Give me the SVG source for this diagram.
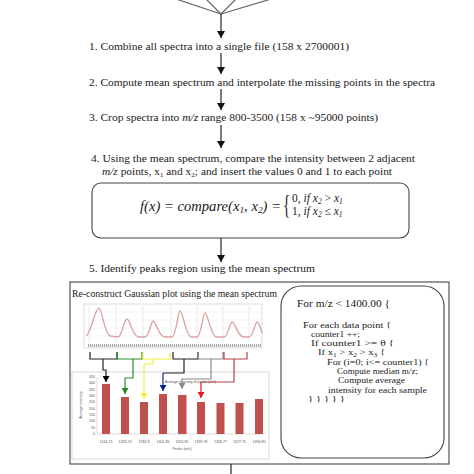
<svg xmlns="http://www.w3.org/2000/svg" width="474" height="474" viewBox="0 0 474 474">
<style>
  .t { font-family: "Liberation Serif", "Times New Roman", serif; font-size: 11px; fill: #1a1a1a; }
  .c { font-family: "Liberation Serif", "Times New Roman", serif; font-size: 10px; fill: #1a1a1a; }
  .a { font-family: "Liberation Serif", "Times New Roman", serif; font-size: 8px; fill: #1a1a1a; }
  .m { font-family: "Liberation Serif", "Times New Roman", serif; font-style: italic; fill: #1a1a1a; }
  .tiny { font-family: "Liberation Sans", Arial, sans-serif; font-size: 3.6px; fill: #555; }
  .flow { stroke: #222; stroke-width: 1.2; fill: none; }
  .box { stroke: #444; stroke-width: 1.1; fill: #fff; }
  .grid { stroke: #dcdcdc; stroke-width: 0.6; fill: none; }
  .br { stroke-width: 1.2; fill: none; }
  .bar { fill: #c0504d; }
</style>
<defs>
  <marker id="ah" markerUnits="userSpaceOnUse" markerWidth="8" markerHeight="8" refX="7" refY="4" orient="auto">
    <path d="M0,0 L7,4 L0,8 z" fill="#111"/>
  </marker>
  <marker id="ak" markerUnits="userSpaceOnUse" markerWidth="7" markerHeight="7" refX="6" refY="3.5" orient="auto"><path d="M0,0 L6,3.5 L0,7 z" fill="#000"/></marker>
  <marker id="ag" markerUnits="userSpaceOnUse" markerWidth="7" markerHeight="7" refX="6" refY="3.5" orient="auto"><path d="M0,0 L6,3.5 L0,7 z" fill="#1f8a1f"/></marker>
  <marker id="ay" markerUnits="userSpaceOnUse" markerWidth="7" markerHeight="7" refX="6" refY="3.5" orient="auto"><path d="M0,0 L6,3.5 L0,7 z" fill="#f2f230"/></marker>
  <marker id="an" markerUnits="userSpaceOnUse" markerWidth="7" markerHeight="7" refX="6" refY="3.5" orient="auto"><path d="M0,0 L6,3.5 L0,7 z" fill="#0a1f8f"/></marker>
  <marker id="aa" markerUnits="userSpaceOnUse" markerWidth="7" markerHeight="7" refX="6" refY="3.5" orient="auto"><path d="M0,0 L6,3.5 L0,7 z" fill="#8a8a8a"/></marker>
  <marker id="ar" markerUnits="userSpaceOnUse" markerWidth="7" markerHeight="7" refX="6" refY="3.5" orient="auto"><path d="M0,0 L6,3.5 L0,7 z" fill="#e01818"/></marker>
</defs>
<rect width="474" height="474" fill="#fff"/>

<!-- connectors -->
<g id="connectors">
  <g stroke="#666" stroke-width="1.2" fill="none">
    <line x1="167" y1="-4" x2="221" y2="14"/>
    <line x1="203" y1="-4" x2="221" y2="14"/>
    <line x1="239" y1="-4" x2="221" y2="14"/>
    <line x1="281" y1="-4" x2="221" y2="14"/>
  </g>
  <line class="flow" x1="221" y1="14" x2="221" y2="38" marker-end="url(#ah)"/>
  <line class="flow" x1="221" y1="53" x2="221" y2="74" marker-end="url(#ah)"/>
  <line class="flow" x1="221" y1="89" x2="221" y2="110" marker-end="url(#ah)"/>
  <line class="flow" x1="221" y1="125" x2="221" y2="148" marker-end="url(#ah)"/>
  <line class="flow" x1="221" y1="238" x2="221" y2="262" marker-end="url(#ah)"/>
  <line class="flow" x1="231" y1="464" x2="231" y2="476"/>
</g>

<!-- step texts -->
<g id="step1"><text class="t" x="89" y="50" textLength="260" lengthAdjust="spacingAndGlyphs">1. Combine all spectra into a single  file (158 x 2700001)</text></g>
<g id="step2"><text class="t" x="89" y="86" textLength="346" lengthAdjust="spacingAndGlyphs">2. Compute mean spectrum and interpolate the missing points in the spectra</text></g>
<g id="step3"><text class="t" x="89" y="121" textLength="289" lengthAdjust="spacingAndGlyphs">3. Crop spectra into <tspan font-style="italic">m/z</tspan> range 800-3500 (158 x ~95000 points)</text></g>
<g id="step4">
  <text class="t" x="91" y="162" textLength="324" lengthAdjust="spacingAndGlyphs">4. Using  the mean spectrum, compare the intensity between 2 adjacent</text>
  <text class="t" x="102" y="175" textLength="290" lengthAdjust="spacingAndGlyphs"><tspan font-style="italic">m/z</tspan> points, x<tspan font-size="7" dy="2">1</tspan><tspan dy="-2"> and x</tspan><tspan font-size="7" dy="2">2</tspan><tspan dy="-2">; and insert the values 0 and 1 to each point</tspan></text>
</g>

<!-- formula box -->
<g id="formula">
  <rect class="box" x="92" y="183" width="317" height="55" rx="9" stroke-width="1.3"/>
  <text class="m" x="140" y="211" font-size="14" textLength="141" lengthAdjust="spacingAndGlyphs">f(x) = compare(x<tspan font-size="9" dy="2">1</tspan><tspan dy="-2">, x</tspan><tspan font-size="9" dy="2">2</tspan><tspan dy="-2">) =</tspan></text>
  <text transform="translate(283,214) scale(0.55,1)" x="0" y="0" font-family="Liberation Serif, serif" font-size="27" fill="#1a1a1a">{</text>
  <text class="m" x="292" y="202" font-size="11.5"><tspan font-style="normal">0, </tspan>if x<tspan font-size="7.5" dy="2">2</tspan><tspan dy="-2" font-style="normal"> &gt;  </tspan>x<tspan font-size="7.5" dy="2">1</tspan></text>
  <text class="m" x="292" y="215" font-size="11.5"><tspan font-style="normal">1, </tspan>if x<tspan font-size="7.5" dy="2">2</tspan><tspan dy="-2" font-style="normal"> ≤  </tspan>x<tspan font-size="7.5" dy="2">1</tspan></text>
</g>

<g id="step5"><text class="t" x="89" y="272" textLength="226" lengthAdjust="spacingAndGlyphs">5. Identify peaks region using the mean spectrum</text></g>

<!-- big panel -->
<g id="peakPanel">
  <rect x="70" y="282" width="379" height="182" fill="#fff" stroke="#444" stroke-width="1.1"/>
  <text class="c" x="72" y="297" font-size="10.5" textLength="205" lengthAdjust="spacingAndGlyphs">Re-construct Gaussian plot using the mean spectrum</text>
</g>

<!-- spectrum plot -->
<g id="spectrumPlot">
  <rect x="84" y="304" width="178" height="44" fill="#fff" stroke="#cfcfcf" stroke-width="0.7"/>
  <g class="grid">
    <line x1="89" y1="306" x2="89" y2="343"/>
    <line x1="116" y1="306" x2="116" y2="343"/>
    <line x1="143" y1="306" x2="143" y2="343"/>
    <line x1="171" y1="306" x2="171" y2="343"/>
    <line x1="197" y1="306" x2="197" y2="343"/>
    <line x1="223" y1="306" x2="223" y2="343"/>
    <line x1="249" y1="306" x2="249" y2="343"/>
    <line x1="89" y1="312" x2="261" y2="312" stroke="#eee"/>
    <line x1="89" y1="320" x2="261" y2="320" stroke="#eee"/>
    <line x1="89" y1="328" x2="261" y2="328" stroke="#eee"/>
    <line x1="89" y1="336" x2="261" y2="336" stroke="#eee"/>
  </g>
  <line x1="88" y1="345.5" x2="261" y2="345.5" stroke="#aaa" stroke-width="3" stroke-dasharray="1.2 0.8"/>
  <path d="M86,336 C90,336 95,308 99,308 C102,308 104,333 110,336 L118,337 C122,337 124,319 127,319 C130,319 132,335 138,337 L145,337 C149,337 151,321 153,321 C156,321 158,335 164,337 L172,337 C176,337 178,311 180,311 C183,311 185,334 191,337 L197,337 C201,337 203,313 205,313 C208,313 210,334 216,337 L224,337 C228,337 230,322 232,322 C235,322 237,335 243,337 L249,337 C253,337 255,322 257,322 C259,322 261,330 262,333" fill="none" stroke="#d9a3a0" stroke-width="1.3"/>
</g>

<!-- bar chart -->
<g id="barChart">
  <rect x="72" y="372" width="197" height="87" fill="#fff" stroke="#cfcfcf" stroke-width="0.8"/>
  <line x1="97" y1="377" x2="97" y2="434" stroke="#bbb" stroke-width="0.5"/>
  <line x1="97" y1="434" x2="265" y2="434" stroke="#bbb" stroke-width="0.5"/>
  <g class="tiny" text-anchor="end">
    <text x="95" y="378">450</text><text x="95" y="384.3">400</text><text x="95" y="390.6">350</text>
    <text x="95" y="397">300</text><text x="95" y="403.3">250</text><text x="95" y="409.6">200</text>
    <text x="95" y="416">150</text><text x="95" y="422.3">100</text><text x="95" y="428.6">50</text>
    <text x="95" y="435">0</text>
  </g>
  <text class="tiny" transform="translate(82,405) rotate(-90)" text-anchor="middle">Average intensity</text>
  <rect class="bar" x="102" y="384" width="8" height="50"/>
  <rect class="bar" x="121" y="397" width="8" height="37"/>
  <rect class="bar" x="140" y="402" width="8" height="32"/>
  <rect class="bar" x="159" y="394" width="8" height="40"/>
  <rect class="bar" x="178" y="395" width="8.5" height="39"/>
  <rect class="bar" x="197" y="402" width="8" height="32"/>
  <rect class="bar" x="216.5" y="403" width="8" height="31"/>
  <rect class="bar" x="235.5" y="403" width="8" height="31"/>
  <rect class="bar" x="255" y="399" width="8" height="35"/>
  <g class="tiny" text-anchor="middle">
    <text x="106" y="443">1244.75</text><text x="125" y="443">1263.74</text><text x="144" y="443">1282.8</text>
    <text x="163" y="443">1301.85</text><text x="182" y="443">1320.85</text><text x="201" y="443">1339.76</text>
    <text x="220.5" y="443">1358.77</text><text x="239.5" y="443">1377.75</text><text x="259" y="443">1396.85</text>
    <text x="182" y="450">Peaks (m/z)</text>
  </g>
  <text class="tiny" x="165" y="383">Average intensity of peaks (m/z)</text>
</g>

<!-- bracket connectors from spectrum to bars -->
<g id="peakLinks">
  <path class="br" stroke="#222" d="M90,352 V359 H117 V352"/>
  <path class="br" stroke="#222" d="M103,359 V370 H106 V382" marker-end="url(#ak)"/>
  <path class="br" stroke="#2e8b2e" d="M117,352 V359 H142 V352"/>
  <path class="br" stroke="#2e8b2e" d="M133,359 V378 H125 V394" marker-end="url(#ag)"/>
  <path class="br" stroke="#f0f040" d="M143,353 V359 H170 V353"/>
  <path class="br" stroke="#f0f040" d="M153,359 V364 H144 V399" marker-end="url(#ay)"/>
  <path class="br" stroke="#222" d="M173,352 V359 H198 V352"/>
  <path class="br" stroke="#222" d="M184,359 V373 H163"/>
  <path class="br" stroke="#0a1f8f" d="M163,373 V391" marker-end="url(#an)"/>
  <path class="br" stroke="#8a8a8a" d="M198,352 V359 H223 V352"/>
  <path class="br" stroke="#8a8a8a" d="M211,359 V379 H182 V389" marker-end="url(#aa)"/>
  <path class="br" stroke="#b84040" d="M224,352 V359 H247 V352"/>
  <path class="br" stroke="#b84040" d="M234,359 V382 H201"/>
  <path class="br" stroke="#e01818" d="M201,382 V398" marker-end="url(#ar)"/>
</g>

<!-- algorithm box -->
<g id="algorithm">
  <rect class="box" x="281" y="286" width="163" height="172" rx="20"/>
  <text class="c" x="297" y="306.5" textLength="93" lengthAdjust="spacingAndGlyphs">For m/z &lt; 1400.00 {</text>
  <text class="a" x="303" y="327.5" textLength="88" lengthAdjust="spacingAndGlyphs">For each data point {</text>
  <text class="a" x="311" y="336.8" textLength="49" lengthAdjust="spacingAndGlyphs">counter1 ++;</text>
  <text class="a" x="311" y="346.1" textLength="83" lengthAdjust="spacingAndGlyphs">If counter1 &gt;= θ {</text>
  <text class="a" x="318" y="355.4" textLength="67" lengthAdjust="spacingAndGlyphs">If x<tspan font-size="5.5" dy="1.2">1</tspan><tspan dy="-1.2"> &gt; x</tspan><tspan font-size="5.5" dy="1.2">2</tspan><tspan dy="-1.2"> &gt; x</tspan><tspan font-size="5.5" dy="1.2">3</tspan><tspan dy="-1.2"> {</tspan></text>
  <text class="a" x="327" y="364.7" textLength="102" lengthAdjust="spacingAndGlyphs">For (i=0; i&lt;= counter1) {</text>
  <text class="a" x="337" y="374" textLength="81" lengthAdjust="spacingAndGlyphs">Compute median m/z;</text>
  <text class="a" x="338" y="383.3" textLength="67" lengthAdjust="spacingAndGlyphs">Compute average</text>
  <text class="a" x="328" y="392.6" textLength="99" lengthAdjust="spacingAndGlyphs">intensity for each sample</text>
  <text class="a" x="308" y="401.9" textLength="37" lengthAdjust="spacingAndGlyphs">} } } } }</text>
</g>
</svg>
